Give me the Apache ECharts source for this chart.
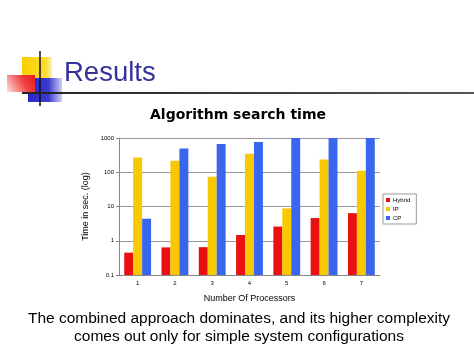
<!DOCTYPE html>
<html>
<head>
<meta charset="utf-8">
<title>Results</title>
<script src="https://cdn.jsdelivr.net/npm/echarts@6/dist/echarts.min.js"></script>
<style>
    html,body{margin:0;padding:0;background:#fff;}
    #chart{width:474px;height:355px;}
</style>
</head>
<body>
<div id="chart"></div>
<script>
    // number of processors
    var procs = ['1', '2', '3', '4', '5', '6', '7'];
    // search time in seconds
    var hybrid = [0.45, 0.64, 0.65, 1.47, 2.6, 4.6, 6.4];
    var ip = [270, 217, 74, 347, 8.8, 236, 110];
    var cp = [4.4, 490, 665, 760, 1000, 1000, 1000];
    var seriesNames = ['Hybrid', 'IP', 'CP'];

    var dom = document.getElementById('chart');
    var myChart = echarts.init(dom);

    var option = {
        animation: false,
        color: ['#e81010', '#f8c800', '#3a66ee'],
        grid: {left: 119, right: 94, top: 138, bottom: 80},
        legend: {
            data: seriesNames,
            orient: 'vertical',
            left: 383,
            top: 194,
            padding: [3, 6, 3, 3],
            itemWidth: 4,
            itemHeight: 4,
            itemGap: 3,
            borderColor: '#999',
            borderWidth: 1,
            icon: 'rect',
            textStyle: {fontFamily: 'Liberation Sans', fontSize: 6, color: '#000', padding: [0, 0, 0, -2]}
        },
        xAxis: {
            type: 'category',
            data: procs,
            name: 'Number Of Processors',
            nameLocation: 'middle',
            nameGap: 19,
            nameTextStyle: {fontFamily: 'Liberation Sans', fontSize: 9, color: '#000'},
            axisLine: {lineStyle: {color: '#888'}},
            axisTick: {length: 3, lineStyle: {color: '#888'}},
            axisLabel: {fontFamily: 'Liberation Sans', fontSize: 6, color: '#000', margin: 5}
        },
        yAxis: {
            type: 'log',
            logBase: 10,
            min: 0.1,
            max: 1000,
            startValue: 0.1,
            name: 'Time in sec. (log)',
            nameLocation: 'middle',
            nameGap: 24,
            nameTextStyle: {fontFamily: 'Liberation Sans', fontSize: 9, color: '#000'},
            axisLine: {show: true, lineStyle: {color: '#888'}},
            axisTick: {show: true, length: 3, lineStyle: {color: '#888'}},
            axisLabel: {fontFamily: 'Liberation Sans', fontSize: 6, color: '#000', margin: 5,
                formatter: function (v) { return String(v); }},
            splitLine: {lineStyle: {color: '#999'}}
        },
        series: [
            {name: 'Hybrid', type: 'bar', data: hybrid, barGap: '0%', barCategoryGap: '28%'},
            {name: 'IP', type: 'bar', data: ip, barGap: '0%', barCategoryGap: '28%'},
            {name: 'CP', type: 'bar', data: cp, barGap: '0%', barCategoryGap: '28%'}
        ],
        graphic: [
            // slide decoration
            {type: 'rect', shape: {x: 22, y: 57, width: 30, height: 25},
                style: {fill: {type: 'linear', x: 0, y: 0, x2: 1, y2: 0,
                    colorStops: [{offset: 0, color: '#f8d000'}, {offset: 0.8, color: '#fbdc30'}, {offset: 1, color: '#fff2b0'}]}}},
            {type: 'rect', shape: {x: 28, y: 78, width: 34, height: 24},
                style: {fill: {type: 'linear', x: 0, y: 0, x2: 1, y2: 0,
                    colorStops: [{offset: 0, color: '#2828c8'}, {offset: 0.6, color: '#3a3ad0'}, {offset: 1, color: '#d0d0f4'}]}}},
            {type: 'rect', shape: {x: 7, y: 75, width: 28, height: 17},
                style: {fill: {type: 'linear', x: 0, y: 1, x2: 1, y2: 0,
                    colorStops: [{offset: 0, color: '#ffe0e0'}, {offset: 0.6, color: '#f04040'}, {offset: 1, color: '#e81818'}]}}},
            {type: 'line', shape: {x1: 40, y1: 51, x2: 40, y2: 106}, style: {stroke: '#111', lineWidth: 1.5}},
            {type: 'line', shape: {x1: 22, y1: 93, x2: 474, y2: 93},
                style: {stroke: {type: 'linear', x: 0, y: 0, x2: 1, y2: 0,
                    colorStops: [{offset: 0, color: '#222'}, {offset: 1, color: '#555'}]}, lineWidth: 2}},
            {type: 'text', x: 64, y: 73,
                style: {text: 'Results', fontFamily: 'Liberation Sans', fontSize: 27.5, fill: '#333399', textVerticalAlign: 'middle'}},
            {type: 'text', x: 238, y: 115,
                style: {text: 'Algorithm search time', fontFamily: 'DejaVu Sans', fontWeight: 'bold', fontSize: 14, fill: '#000',
                    textAlign: 'center', textVerticalAlign: 'middle'}},
            {type: 'text', x: 239, y: 319,
                style: {text: 'The combined approach dominates, and its higher complexity', fontFamily: 'Liberation Sans', fontSize: 15.5, fill: '#000',
                    textAlign: 'center', textVerticalAlign: 'middle'}},
            {type: 'text', x: 239, y: 337,
                style: {text: 'comes out only for simple system configurations', fontFamily: 'Liberation Sans', fontSize: 15.5, fill: '#000',
                    textAlign: 'center', textVerticalAlign: 'middle'}}
        ]
    };

    if (option && typeof option === 'object') {
        myChart.setOption(option, true);
    }
</script>
</body>
</html>
